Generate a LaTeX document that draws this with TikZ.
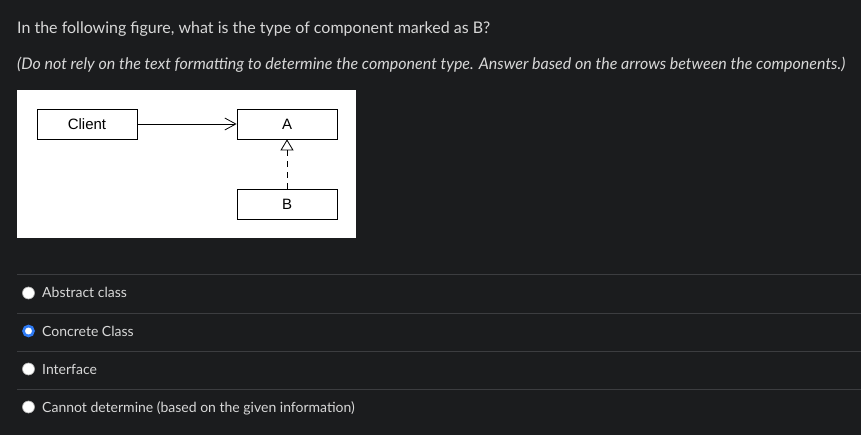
\documentclass[tikz,border=0pt]{standalone}
\usepackage{fontspec}
\setmainfont{Lato}
\newfontfamily\diagfont{Liberation Sans}
\usetikzlibrary{arrows.meta}
\definecolor{bg}{HTML}{1B1C1E}
\definecolor{txt}{HTML}{D8D8D8}
\definecolor{sep}{HTML}{3C3D40}
\definecolor{radioblue}{HTML}{2F7BF5}
\begin{document}
\begin{tikzpicture}[x=1pt,y=-1pt,
  qtext/.style={anchor=base west,inner sep=0pt,text=txt,font=\fontsize{16}{19}\selectfont},
  opttext/.style={anchor=base west,inner sep=0pt,text=txt,font=\fontsize{14}{17}\selectfont},
  cls/.style={draw=black,line width=0.8pt,fill=white,minimum width=100pt,minimum height=30pt,inner sep=0pt,font=\diagfont\fontsize{15}{17}\selectfont},
  radio/.style={circle,fill=white,draw=gray!60,line width=0.6pt,minimum size=12pt,inner sep=0pt},
  radiosel/.style={circle,fill=white,draw=radioblue,line width=2.6pt,minimum size=10pt,inner sep=0pt},
  sepline/.style={draw=sep,line width=1pt}]
\fill[bg] (0,0) rectangle (861,435);
\useasboundingbox (0,0) rectangle (861,435);
\node[qtext] (q1) at (17,34) {In the following figure, what is the type of component marked as B?};
\node[qtext,font=\fontsize{16}{19}\selectfont\itshape] (q2) at (17,70) {(Do not rely on the text formatting to determine the component type. Answer based on the arrows between the components.)};
% diagram panel
\fill[white] (17,90) rectangle (356,238);
\node[cls] (client) at (87,124) {Client};
\node[cls] (A) at (287,124) {A};
\node[cls] (B) at (287,204) {B};
\draw[line width=0.8pt,-{Straight Barb[length=11pt,width=12pt,line width=0.8pt]}] (client.east) -- (A.west);
\draw[line width=0.8pt,dash pattern=on 6pt off 5pt,-{Triangle[open,length=11pt,width=13pt,line width=0.8pt]}] (B.north) -- (A.south);
% separators
\foreach \yy in {275,313,351,389} \draw[sepline] (17,\yy) -- (861,\yy);
% options
\node[radio] (r1) at (28.5,293) {};
\node[opttext] (o1) at (42,298) {Abstract class};
\node[radiosel] (r2) at (28.5,331) {};
\node[opttext] (o2) at (42,336) {Concrete Class};
\node[radio] (r3) at (28.5,369) {};
\node[opttext] (o3) at (42,374) {Interface};
\node[radio] (r4) at (28.5,407) {};
\node[opttext] (o4) at (42,412) {Cannot determine (based on the given information)};
\end{tikzpicture}
\end{document}
